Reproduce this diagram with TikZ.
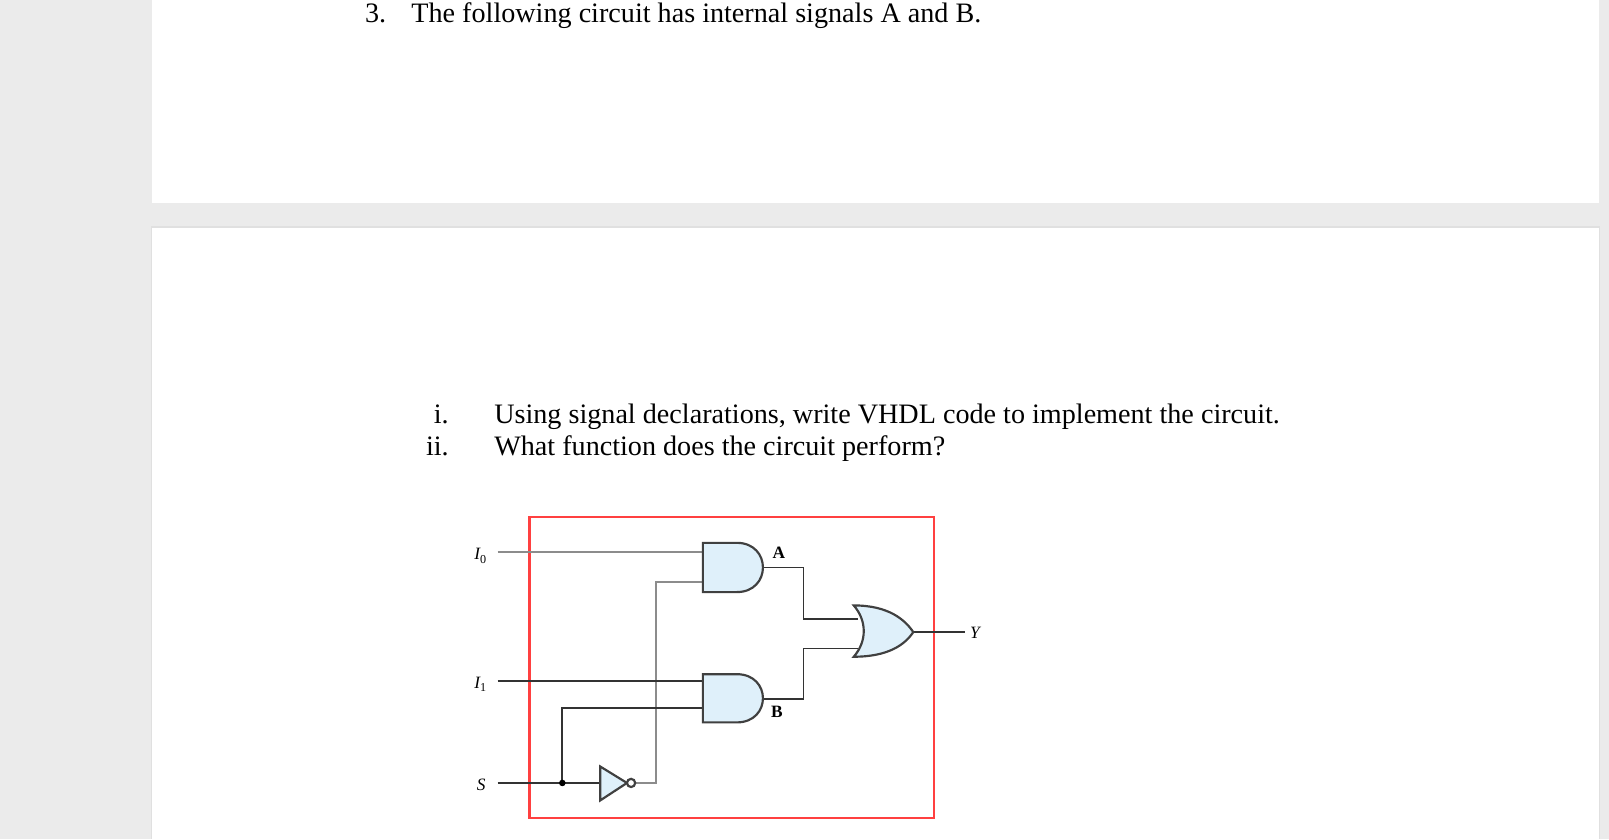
\documentclass[tikz,border=0pt]{standalone}
\usepackage{fontspec}
\setmainfont{Liberation Serif}
\definecolor{gfill}{HTML}{DFF0FA}
\begin{document}
\begin{tikzpicture}[x=0.01cm,y=-0.01cm,
  wire/.style={line width=0.5pt,draw=black!80},
  gwire/.style={line width=0.5pt,draw=black!45},
  gate/.style={draw=black!75,line width=0.6pt,fill=gfill},
  big/.style={font=\fontsize{7.8pt}{9pt}\selectfont,inner sep=0pt},
  small/.style={font=\fontsize{4.8pt}{5pt}\selectfont\itshape,inner sep=0pt}]
\useasboundingbox (0,0) rectangle (1568,818);
\fill[black!8] (0,0) rectangle (1568,818);
\fill[white] (148,0) rectangle (1558,198);
\fill[black!12] (147,220) rectangle (1559,818);
\fill[white] (148,222) rectangle (1558,818);
\node[big,anchor=base west] (title) at (355,22) {3.\hspace{0.9em}The following circuit has internal signals A and B.};
\node[big,anchor=base east] (n1) at (438,413) {i.};
\node[big,anchor=base east] (n2) at (438,444) {ii.};
\node[big,anchor=base west] (t1) at (481,413) {Using signal declarations, write VHDL code to implement the circuit.};
\node[big,anchor=base west] (t2) at (481,444) {What function does the circuit perform?};
\draw[red!75,line width=0.6pt] (516,504) rectangle (910,797);
% labels
\node[small] (I0) at (469,542) {I\textsubscript{\upshape 0}};
\node[small] (I1) at (469,667) {I\textsubscript{\upshape 1}};
\node[small] (S) at (469,765) {S};
\node[small] (Y) at (950,617) {Y};
\node[small,font=\fontsize{4.8pt}{5pt}\selectfont\bfseries] (A) at (759,539) {A};
\node[small,font=\fontsize{4.8pt}{5pt}\selectfont\bfseries] (B) at (757,694) {B};
% coordinates
\coordinate (a1) at (685,538); \coordinate (a2) at (685,567); \coordinate (ao) at (745,553);
\coordinate (b1) at (685,664); \coordinate (b2) at (685,690); \coordinate (bo) at (745,681);
\coordinate (o1) at (836,603); \coordinate (o2) at (836,632); \coordinate (oo) at (890,616);
\coordinate (ni) at (585,763); \coordinate (no) at (619,763);
\coordinate (dot) at (548,763);
% wires
\draw[gwire] (485,538) -- (a1);
\draw[gwire] (no) -- (639,763) -- (639,567) -- (a2);
\draw[wire] (485,664) -- (b1);
\draw[wire] (485,763) -- (ni);
\draw[wire] (dot) -- (548,690) -- (b2);
\draw[wire] (ao) -- (783,553) -- (783,603) -- (o1);
\draw[wire] (bo) -- (783,681) -- (783,632) -- (o2);
\draw[wire] (oo) -- (940,616);
\fill (dot) circle (3.2);
% gates
\draw[gate] (685,529) -- (718,529) .. controls (752,529) and (752,577) .. (718,577) -- (685,577) -- cycle;
\draw[gate] (685,657) -- (718,657) .. controls (752,657) and (752,704) .. (718,704) -- (685,704) -- cycle;
\draw[gate] (832,590) .. controls (866,590) and (882,604) .. (890,616) .. controls (882,628) and (866,640) .. (832,640) .. controls (845,625) and (845,605) .. (832,590) -- cycle;
\draw[gate] (585,747) -- (611,763) -- (585,780) -- cycle;
\draw[gate,fill=white] (615,763) circle (4);
\end{tikzpicture}
\end{document}
